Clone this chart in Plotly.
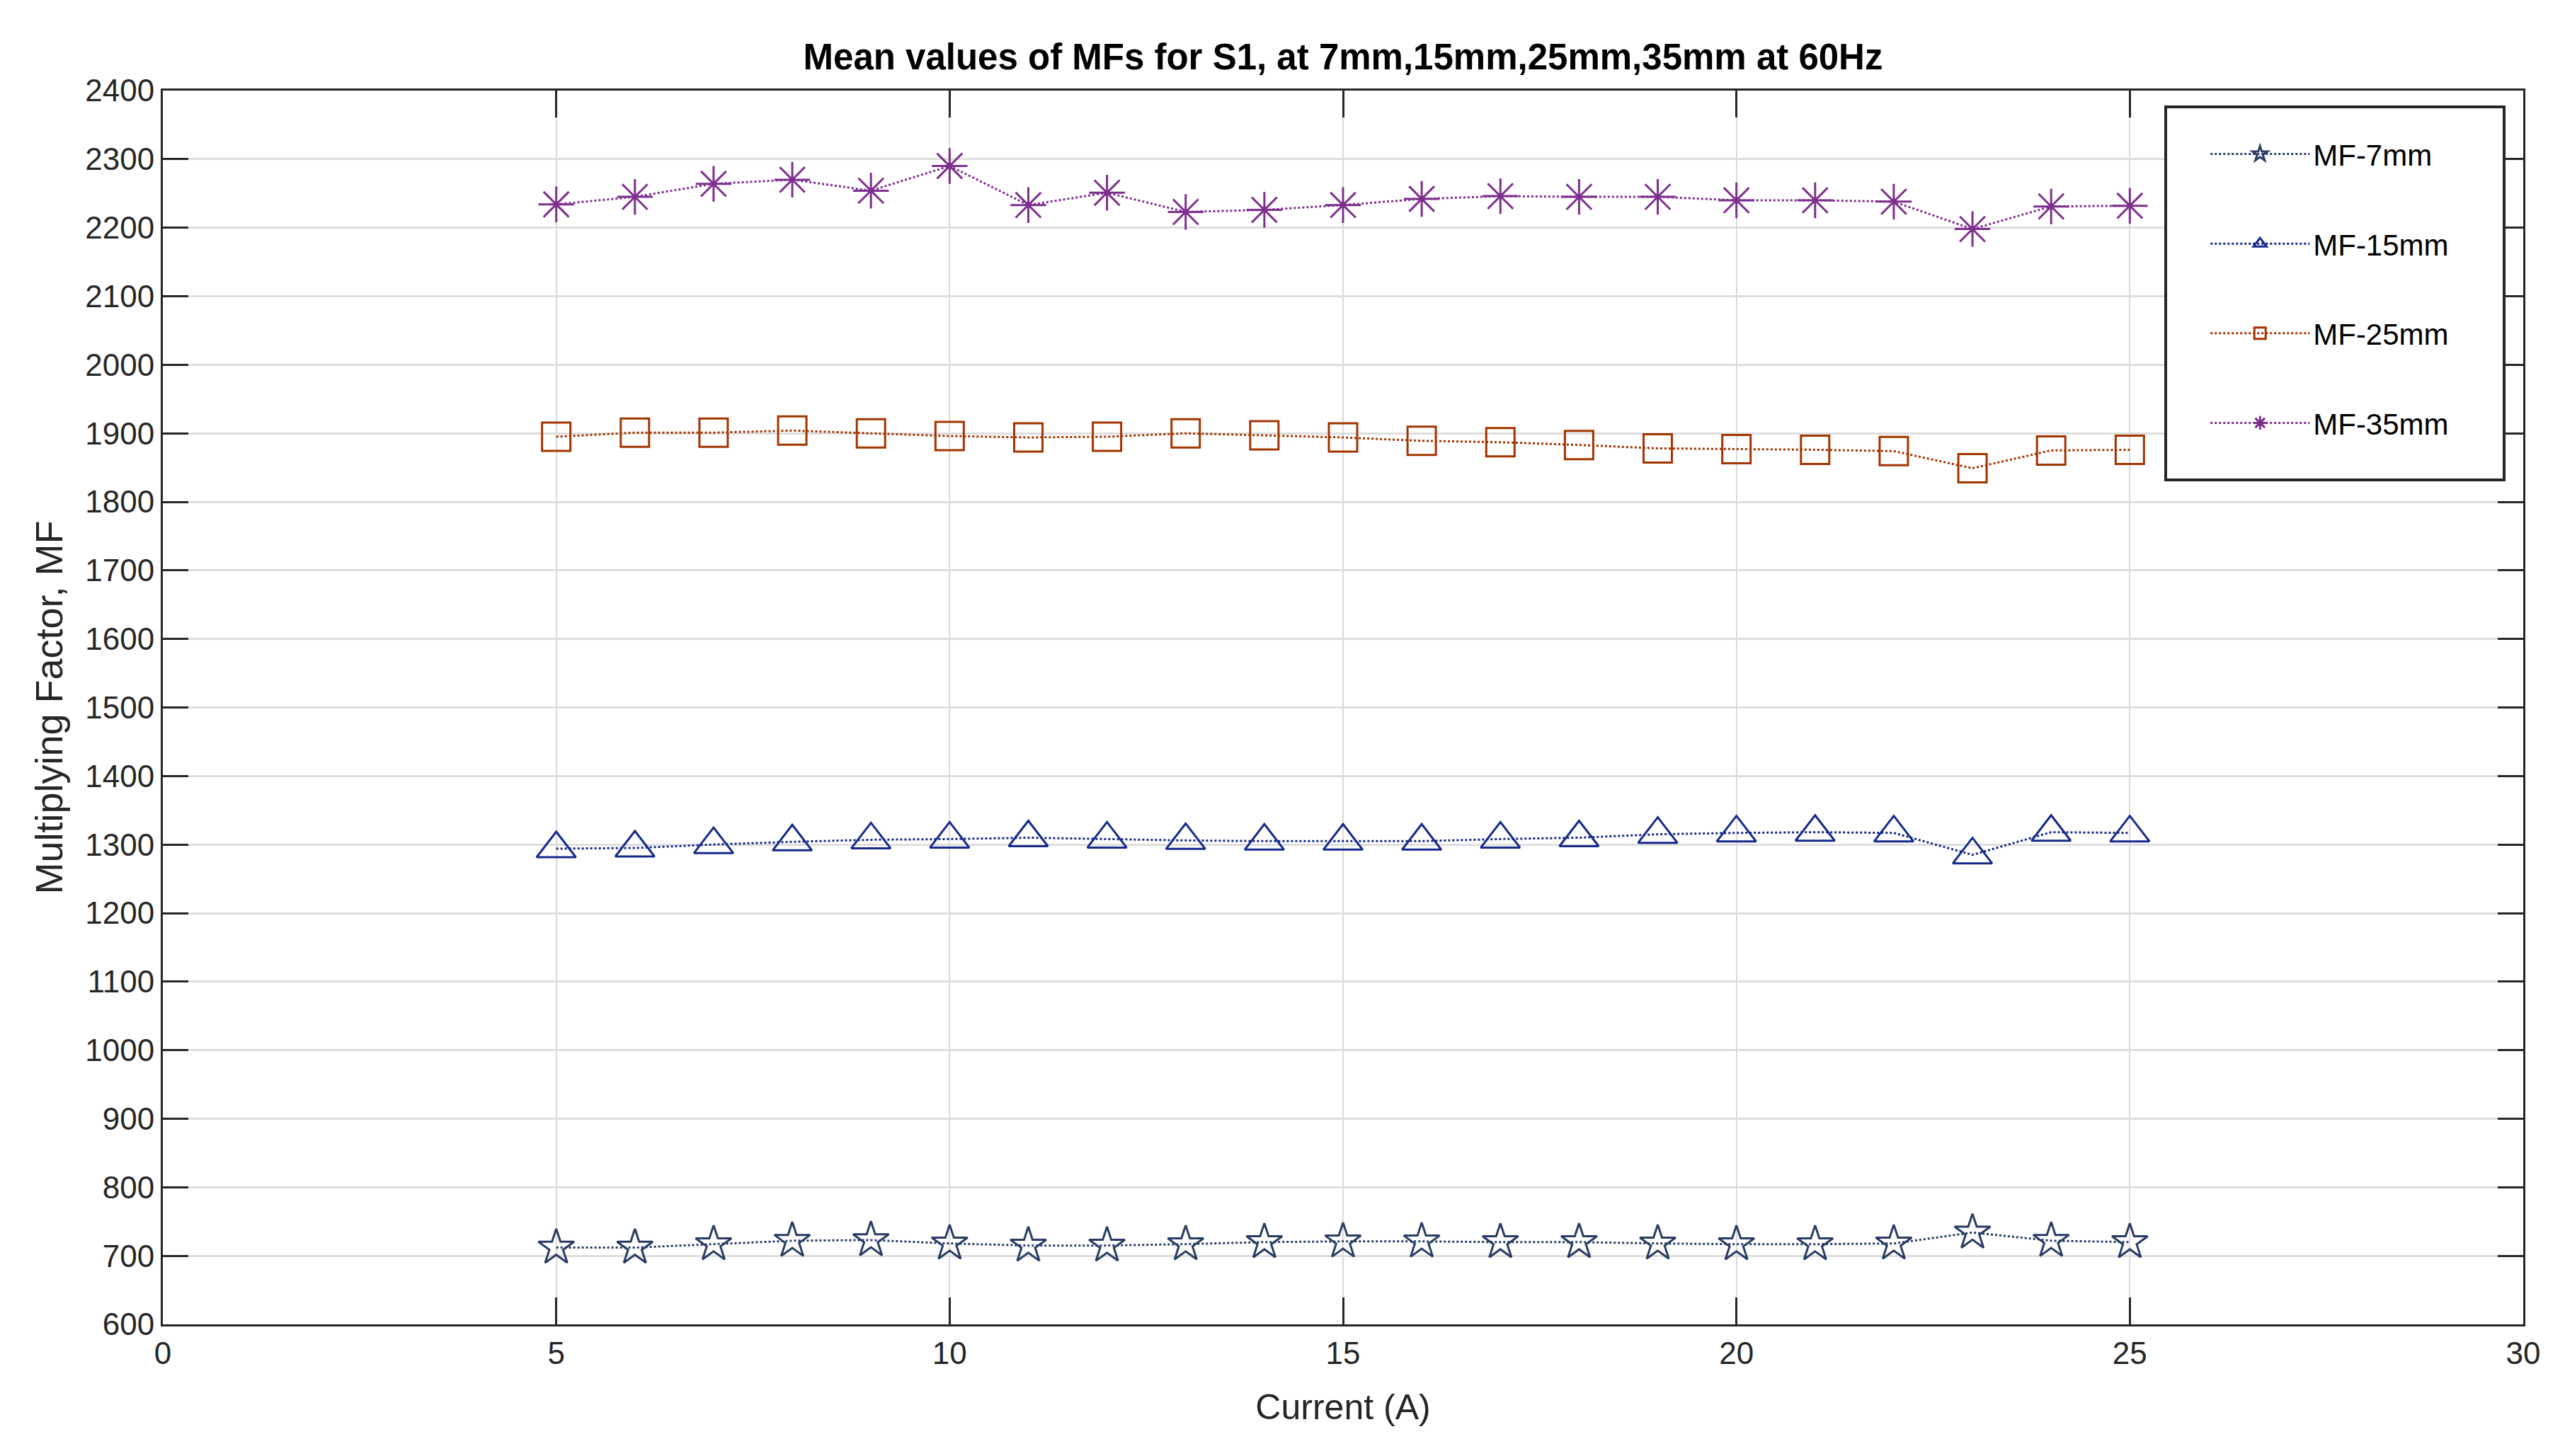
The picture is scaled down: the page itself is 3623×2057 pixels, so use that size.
import plotly.graph_objects as go

current = [5, 6, 7, 8, 9, 10, 11, 12, 13, 14, 15, 16, 17, 18, 19, 20, 21, 22, 23, 24, 25]

mf_7mm = [712, 712, 717, 722, 723, 718, 715, 715, 717, 720, 721,
          721, 720, 720, 718, 717, 717, 718, 734, 722, 720]
mf_15mm = [1294, 1295, 1300, 1304, 1307, 1308, 1310, 1308, 1306, 1305, 1305,
           1305, 1308, 1310, 1315, 1317, 1318, 1317, 1285, 1318, 1317]
mf_25mm = [1895, 1901, 1901, 1904, 1900, 1896, 1894, 1895, 1900, 1897, 1894,
           1889, 1887, 1883, 1878, 1877, 1876, 1874, 1849, 1875, 1876]
mf_35mm = [2234, 2245, 2264, 2270, 2254, 2290, 2233, 2251, 2223, 2226, 2233,
           2242, 2246, 2245, 2245, 2240, 2240, 2238, 2198, 2231, 2232]

FONT = "Liberation Sans, Arial, sans-serif"
AXCOL = "#262626"

##########################################################################################################################
# series
fig = go.Figure()

def add_series(y, name, color, symbol, size):
    fig.add_trace(go.Scatter(
        x=current, y=y, name=name, legendgroup=name,
        mode='lines+markers',
        line=dict(color=color, width=3, dash='dot'),
        marker=dict(symbol=symbol, size=size, color=color,
                    line=dict(color=color, width=3))))

add_series(mf_7mm, 'MF-7mm', '#2a3c63', 'star-open', 38)
add_series(mf_15mm, 'MF-15mm', '#16288a', 'triangle-up-open', 48)
add_series(mf_25mm, 'MF-25mm', '#a23400', 'square-open', 40)
add_series(mf_35mm, 'MF-35mm', '#7e2f8e', 'asterisk-open', 42)

##########################################################################################################################
# layout
fig.update_layout(
    width=3623, height=2057,
    plot_bgcolor='white', paper_bgcolor='white',
    margin=dict(l=222, r=67, t=120, b=194),
    title=dict(text="<b>Mean values of MFs for S1, at 7mm,15mm,25mm,35mm at 60Hz</b>",
               x=0.5, xref='paper', y=1 - 72 / 2057, yref='container',
               xanchor='center', yanchor='middle',
               font=dict(family=FONT, size=51, color='black')),
    legend=dict(x=0.866, y=0.968, xanchor='left', yanchor='top',
                bgcolor='rgba(0,0,0,0)', borderwidth=0,
                font=dict(family=FONT, size=42, color='black'),
                itemwidth=140, tracegroupgap=69),
    shapes=[dict(type='rect', xref='paper', yref='paper',
                 x0=(3051 - 222) / 3334, x1=(3529 - 222) / 3334,
                 y0=(1863 - 670) / 1743, y1=(1863 - 143) / 1743,
                 fillcolor='white', line=dict(color=AXCOL, width=4), layer='above')])

fig.update_xaxes(
    range=[0, 30], dtick=5, tick0=0,
    title=dict(text="Current (A)", font=dict(family=FONT, size=50, color=AXCOL), standoff=36),
    tickfont=dict(family=FONT, size=44, color=AXCOL),
    ticks='inside', ticklen=38, tickwidth=3, tickcolor=AXCOL,
    showline=True, linewidth=3, linecolor=AXCOL, mirror='ticks',
    showgrid=True, gridcolor='#dadada', gridwidth=2, zeroline=False)

fig.update_yaxes(
    range=[600, 2400], dtick=100, tick0=600,
    title=dict(text="Multiplying Factor, MF", font=dict(family=FONT, size=54, color=AXCOL), standoff=15),
    tickfont=dict(family=FONT, size=44, color=AXCOL),
    ticks='inside', ticklen=36, tickwidth=3, tickcolor=AXCOL,
    showline=True, linewidth=3, linecolor=AXCOL, mirror='ticks',
    showgrid=True, gridcolor='#dedede', gridwidth=3, zeroline=False)

fig.write_html("out.html")
